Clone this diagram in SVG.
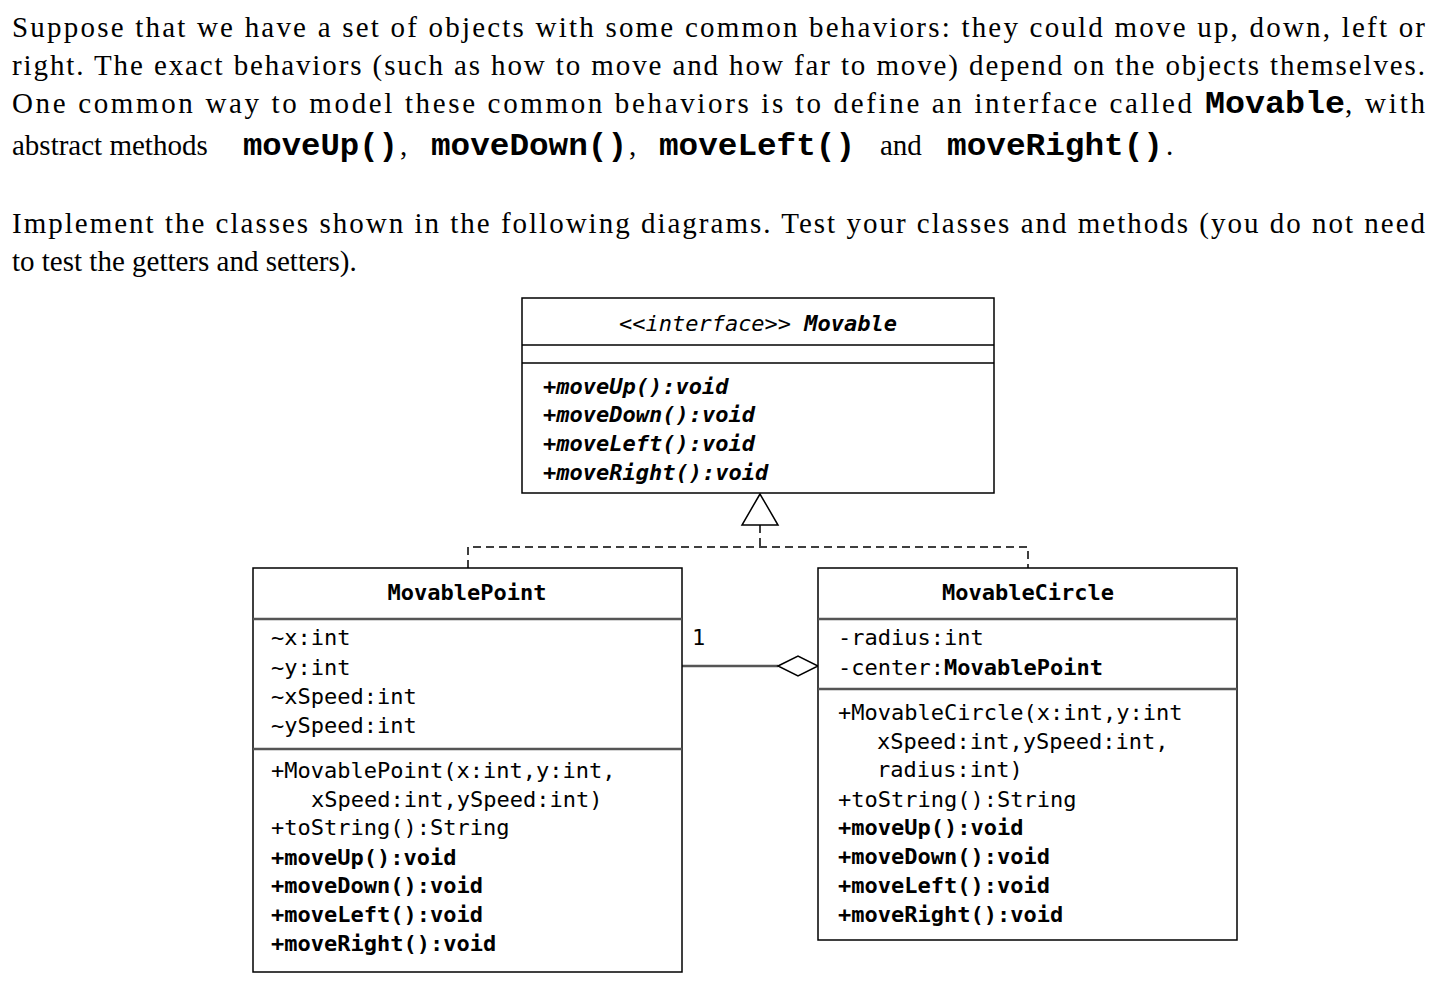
<svg xmlns="http://www.w3.org/2000/svg" width="1437" height="988" viewBox="0 0 1437 988">
<style>
.p{font-family:"Liberation Serif",serif;font-size:29px;fill:#000}
.c{font-family:"Liberation Mono",monospace;font-size:31px;font-weight:bold;fill:#000}
.m{font-family:"DejaVu Sans Mono",monospace;font-size:22px;fill:#000}
.b{font-weight:bold}
.i{font-style:italic}
.box{fill:#fff;stroke:#000;stroke-width:1.5}
.sep{stroke:#555;stroke-width:2.5}
.sep1{stroke:#000;stroke-width:1.5}
.dash{fill:none;stroke:#000;stroke-width:1.5;stroke-dasharray:8 5}
</style>
<rect width="1437" height="988" fill="#fff"/>
<g id="text">
<text class="p" x="12" y="37" textLength="1413" lengthAdjust="spacing">Suppose that we have a set of objects with some common behaviors: they could move up, down, left or</text>
<text class="p" x="12" y="75" textLength="1413" lengthAdjust="spacing">right. The exact behaviors (such as how to move and how far to move) depend on the objects themselves.</text>
<text class="p" x="12" y="113" textLength="1180" lengthAdjust="spacing">One common way to model these common behaviors is to define an interface called</text>
<text class="c" x="1205" y="113" textLength="140" lengthAdjust="spacingAndGlyphs">Movable</text>
<text class="p" x="1345" y="113" textLength="80" lengthAdjust="spacing">, with</text>
<text class="p" x="12" y="155">abstract methods</text>
<text class="c" x="243" y="155" textLength="155" lengthAdjust="spacingAndGlyphs">moveUp()</text>
<text class="p" x="400" y="155">,</text>
<text class="c" x="431" y="155" textLength="196" lengthAdjust="spacingAndGlyphs">moveDown()</text>
<text class="p" x="629" y="155">,</text>
<text class="c" x="659" y="155" textLength="196" lengthAdjust="spacingAndGlyphs">moveLeft()</text>
<text class="p" x="880" y="155">and</text>
<text class="c" x="947" y="155" textLength="216" lengthAdjust="spacingAndGlyphs">moveRight()</text>
<text class="p" x="1166" y="155">.</text>
<text class="p" x="12" y="233" textLength="1413" lengthAdjust="spacing">Implement the classes shown in the following diagrams. Test your classes and methods (you do not need</text>
<text class="p" x="12" y="271">to test the getters and setters).</text>
</g>
<g id="connectors">
<polyline class="dash" points="760,525 760,547"/>
<polyline class="dash" points="468,568 468,547 1028,547 1028,568"/>
<polygon points="760,494 742,525 778,525" fill="#fff" stroke="#000" stroke-width="1.5"/>
<line x1="682" y1="666" x2="778" y2="666" stroke="#555" stroke-width="2.5"/>
<polygon points="778,666 798,656 818,666 798,676" fill="#fff" stroke="#000" stroke-width="1.5"/>
<text class="m" x="692" y="645">1</text>
</g>
<g id="Movable">
<rect class="box" x="522" y="298" width="472" height="195"/>
<line class="sep1" x1="522" y1="345" x2="994" y2="345"/>
<line class="sep1" x1="522" y1="363" x2="994" y2="363"/>
<text class="m i" x="758" y="331" text-anchor="middle">&lt;&lt;interface&gt;&gt; <tspan class="b">Movable</tspan></text>
<text class="m i b" x="543" y="394">+moveUp():void</text>
<text class="m i b" x="543" y="422">+moveDown():void</text>
<text class="m i b" x="543" y="451">+moveLeft():void</text>
<text class="m i b" x="543" y="480">+moveRight():void</text>
</g>
<g id="MovablePoint">
<rect class="box" x="253" y="568" width="429" height="404"/>
<line class="sep" x1="253" y1="619" x2="682" y2="619"/>
<line class="sep" x1="253" y1="749" x2="682" y2="749"/>
<text class="m b" x="467" y="600" text-anchor="middle">MovablePoint</text>
<text class="m" x="271" y="645">~x:int</text>
<text class="m" x="271" y="675">~y:int</text>
<text class="m" x="271" y="704">~xSpeed:int</text>
<text class="m" x="271" y="733">~ySpeed:int</text>
<text class="m" x="271" y="778">+MovablePoint(x:int,y:int,</text>
<text class="m" x="311" y="807">xSpeed:int,ySpeed:int)</text>
<text class="m" x="271" y="835">+toString():String</text>
<text class="m b" x="271" y="865">+moveUp():void</text>
<text class="m b" x="271" y="893">+moveDown():void</text>
<text class="m b" x="271" y="922">+moveLeft():void</text>
<text class="m b" x="271" y="951">+moveRight():void</text>
</g>
<g id="MovableCircle">
<rect class="box" x="818" y="568" width="419" height="372"/>
<line class="sep" x1="818" y1="619" x2="1237" y2="619"/>
<line class="sep" x1="818" y1="689" x2="1237" y2="689"/>
<text class="m b" x="1028" y="600" text-anchor="middle">MovableCircle</text>
<text class="m" x="838" y="645">-radius:int</text>
<text class="m" x="838" y="675">-center:<tspan class="b">MovablePoint</tspan></text>
<text class="m" x="838" y="720">+MovableCircle(x:int,y:int</text>
<text class="m" x="877" y="749">xSpeed:int,ySpeed:int,</text>
<text class="m" x="877" y="777">radius:int)</text>
<text class="m" x="838" y="807">+toString():String</text>
<text class="m b" x="838" y="835">+moveUp():void</text>
<text class="m b" x="838" y="864">+moveDown():void</text>
<text class="m b" x="838" y="893">+moveLeft():void</text>
<text class="m b" x="838" y="922">+moveRight():void</text>
</g>
</svg>
